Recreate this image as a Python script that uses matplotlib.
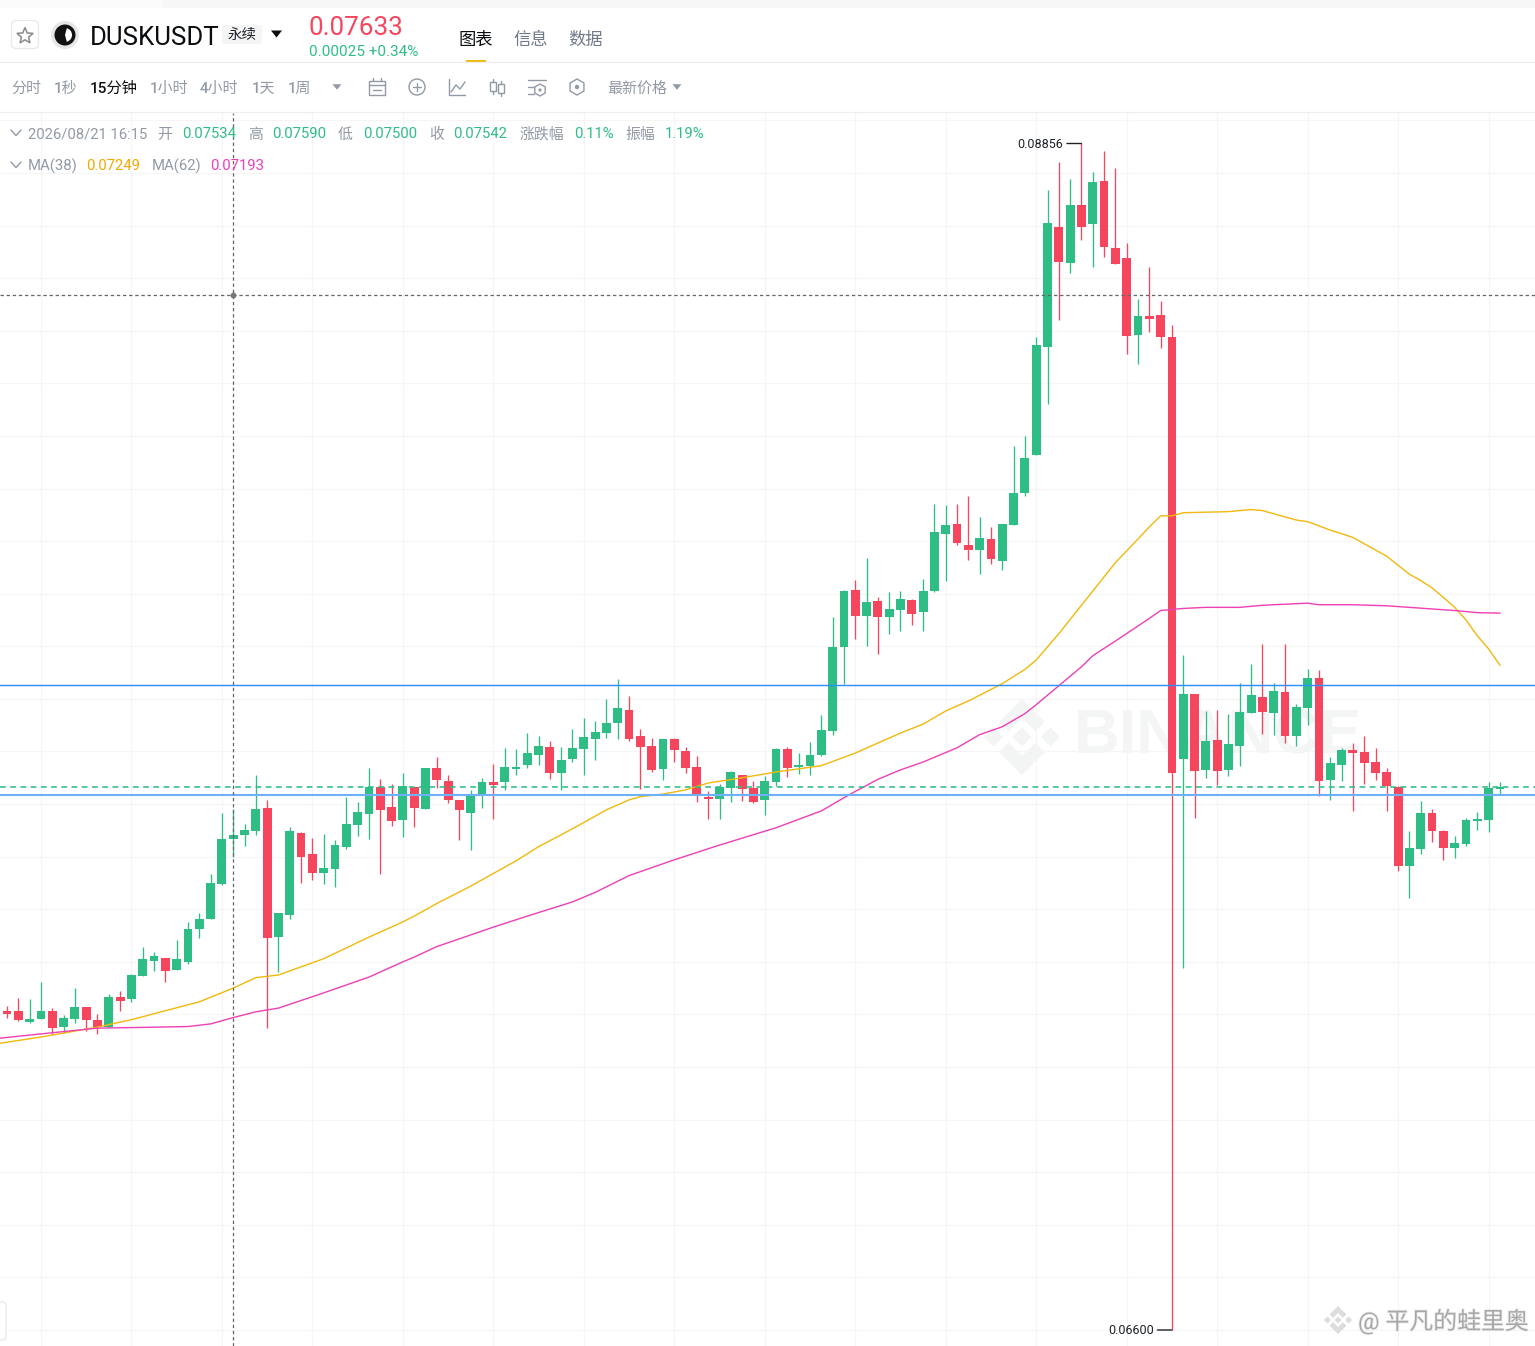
import numpy as np
import matplotlib
matplotlib.use('Agg')
import matplotlib.pyplot as plt
from matplotlib.patches import Circle, FancyBboxPatch, Polygon, Rectangle, Wedge
import matplotlib.patheffects as pe

plt.rcParams['font.family'] = ['Roboto', 'Noto Sans CJK SC', 'DejaVu Sans']

W, H = 1535, 1346

# precios en unidades de 0.00001 (15 min)
opens = [7212, 7206, 7206, 7186, 7191, 7206, 7176, 7191, 7215, 7190, 7177,
         7233, 7230, 7273, 7301, 7308, 7285, 7300, 7362, 7381, 7448,
         7534, 7542, 7548, 7593, 7348, 7389, 7545, 7505, 7469, 7477,
         7519, 7560, 7581, 7633, 7595, 7569, 7633, 7590, 7668, 7644,
         7608, 7583, 7617, 7642, 7642, 7666, 7675, 7694, 7708, 7659,
         7685, 7705, 7723, 7736, 7755, 7778, 7729, 7711, 7666, 7723,
         7701, 7670, 7613, 7610, 7631, 7655, 7631, 7607, 7642, 7704,
         7670, 7673, 7694, 7739, 7898, 8007, 7957, 7986, 7955, 7969,
         7988, 7965, 8005, 8113, 8132, 8093, 8084, 8104, 8063, 8131,
         8191, 8263, 8470, 8698, 8628, 8739, 8703, 8784, 8658, 8638,
         8491, 8528, 8530, 8488, 7685, 7810, 7665, 7722, 7665, 7711,
         7773, 7803, 7774, 7814, 7730, 7783, 7839, 7645, 7675, 7702,
         7699, 7680, 7661, 7633, 7482, 7514, 7583, 7549, 7517, 7524,
         7567, 7570, 7629]
highs = [7216, 7216, 7231, 7229, 7262, 7212, 7199, 7250, 7215, 7200, 7239,
         7244, 7277, 7328, 7318, 7308, 7342, 7375, 7392, 7467, 7583,
         7590, 7562, 7655, 7608, 7393, 7557, 7547, 7535, 7543, 7532,
         7613, 7604, 7669, 7648, 7638, 7659, 7633, 7669, 7690, 7655,
         7608, 7627, 7650, 7676, 7707, 7705, 7735, 7730, 7720, 7709,
         7742, 7764, 7758, 7800, 7837, 7806, 7743, 7726, 7723, 7725,
         7708, 7692, 7625, 7638, 7662, 7655, 7643, 7654, 7707, 7708,
         7698, 7718, 7769, 7956, 8007, 8026, 8068, 7993, 8004, 8006,
         7990, 8027, 8170, 8169, 8170, 8185, 8145, 8126, 8132, 8281,
         8300, 8488, 8768, 8820, 8789, 8856, 8801, 8841, 8810, 8667,
         8560, 8621, 8556, 8511, 7884, 7810, 7777, 7779, 7772, 7830,
         7866, 7905, 7831, 7905, 7790, 7856, 7855, 7690, 7707, 7716,
         7729, 7707, 7669, 7635, 7549, 7605, 7590, 7550, 7539, 7574,
         7585, 7642, 7642]
lows = [7200, 7193, 7187, 7184, 7191, 7163, 7165, 7184, 7169, 7162, 7175,
        7207, 7223, 7273, 7283, 7262, 7285, 7296, 7346, 7381, 7446,
        7500, 7521, 7542, 7175, 7280, 7382, 7449, 7456, 7448, 7443,
        7514, 7540, 7534, 7467, 7559, 7538, 7557, 7590, 7631, 7602,
        7532, 7513, 7593, 7571, 7627, 7655, 7669, 7674, 7647, 7626,
        7680, 7655, 7683, 7725, 7723, 7719, 7629, 7661, 7646, 7680,
        7660, 7604, 7572, 7572, 7604, 7606, 7602, 7579, 7635, 7652,
        7658, 7656, 7692, 7732, 7828, 7914, 7900, 7885, 7924, 7930,
        7941, 7930, 8003, 8025, 8092, 8064, 8037, 8056, 8046, 8131,
        8185, 8263, 8361, 8521, 8610, 8673, 8622, 8640, 8627, 8456,
        8436, 8498, 8468, 6600, 7289, 7574, 7650, 7637, 7654, 7673,
        7773, 7733, 7732, 7717, 7711, 7751, 7616, 7608, 7643, 7587,
        7638, 7646, 7587, 7472, 7421, 7505, 7528, 7493, 7497, 7521,
        7550, 7546, 7620]
closes = [7205, 7201, 7189, 7191, 7206, 7175, 7194, 7215, 7189, 7176, 7234,
          7225, 7275, 7305, 7311, 7283, 7306, 7363, 7382, 7450, 7534,
          7542, 7551, 7591, 7346, 7393, 7548, 7499, 7469, 7478, 7522,
          7562, 7584, 7632, 7589, 7568, 7635, 7593, 7668, 7645, 7608,
          7588, 7618, 7642, 7637, 7670, 7671, 7697, 7710, 7660, 7683,
          7707, 7728, 7737, 7755, 7782, 7723, 7709, 7665, 7723, 7703,
          7669, 7615, 7610, 7633, 7661, 7628, 7604, 7644, 7705, 7669,
          7674, 7694, 7740, 7899, 8005, 7957, 7985, 7955, 7971, 7990,
          7962, 8005, 8118, 8131, 8096, 8084, 8106, 8066, 8132, 8192,
          8258, 8473, 8704, 8630, 8739, 8697, 8783, 8660, 8627, 8490,
          8528, 8523, 8488, 7659, 7810, 7663, 7720, 7662, 7715, 7775,
          7808, 7775, 7815, 7730, 7784, 7840, 7644, 7678, 7702, 7697,
          7678, 7659, 7635, 7482, 7516, 7583, 7548, 7517, 7526, 7569,
          7571, 7631, 7633]

# medias moviles, puntos (indice de vela, precio)
ma38_idx = [-1, 3, 8, 11, 14, 17, 20, 22, 24, 28, 32, 35, 36, 38, 41, 45, 47, 50, 53, 55,
            56, 58, 60, 62, 65, 68, 72, 74, 75, 79, 81, 83, 85, 88, 90, 91, 93, 96, 98,
            100, 101, 102, 103, 104, 108, 110, 111, 113, 114, 115, 117, 119, 122, 124,
            125, 126, 127, 128, 129, 130, 131, 132]
ma38_val = [7144, 7157, 7176, 7190, 7207, 7224, 7250, 7270, 7275, 7306, 7347, 7376, 7387,
            7411, 7444, 7492, 7519, 7553, 7589, 7608, 7614, 7619, 7627, 7640, 7650, 7661,
            7673, 7689, 7697, 7735, 7752, 7777, 7796, 7829, 7856, 7874, 7924, 8005, 8059,
            8104, 8127, 8148, 8148, 8154, 8156, 8160, 8158, 8146, 8140, 8137, 8121, 8107,
            8071, 8037, 8025, 8011, 7993, 7974, 7950, 7920, 7895, 7864]
ma62_idx = [-1, 3, 8, 11, 16, 18, 20, 22, 24, 28, 32, 35, 36, 38, 43, 46, 50, 52, 55, 59,
            63, 68, 72, 74, 75, 77, 79, 81, 84, 86, 88, 90, 91, 93, 95, 96, 98, 101, 102,
            104, 106, 109, 111, 113, 115, 116, 119, 122, 124, 126, 128, 130, 132]
ma62_val = [7154, 7163, 7174, 7175, 7177, 7182, 7194, 7205, 7212, 7241, 7271, 7300, 7309,
            7329, 7366, 7387, 7414, 7432, 7464, 7494, 7522, 7555, 7587, 7612, 7624, 7647,
            7665, 7680, 7707, 7732, 7747, 7772, 7789, 7825, 7861, 7882, 7910, 7953, 7968,
            7972, 7974, 7974, 7978, 7980, 7982, 7979, 7979, 7977, 7974, 7971, 7968, 7964,
            7963]

last_price = 0.07633
blue_levels = [0.07827, 0.07617]
cross_price = 0.08567
cross_idx = 20
max_price = 0.08856
min_price = 0.06600
grid_prices = np.arange(66, 90) / 1000

GREEN = '#2ebd85'
RED = '#f6465d'
GOLD = '#f0b90b'
PINK = '#ee3fb5'
GRAY = '#929aa5'
BLUE = '#2f8ffa'
GRID = '#f5f5f5'

scale = 1.90139e-5
step = 11.31


def px_to_price(y):
    return 0.066 + (1330 - y) * scale


def px_to_idx(x):
    return (x - 7) / step


fig = plt.figure(figsize=(W / 100, H / 100), dpi=100, facecolor='white')

# capa de fondo y capa superior en pixeles
bg = fig.add_axes([0, 0, 1, 1], zorder=0)
top = fig.add_axes([0, 0, 1, 1], zorder=2)
for a in (bg, top):
    a.set_xlim(0, W)
    a.set_ylim(H, 0)
    a.axis('off')
top.patch.set_alpha(0)

ax = fig.add_axes([0, 0, 1, (H - 113) / H], zorder=1)
ax.patch.set_alpha(0)
ax.set_xlim(px_to_idx(0), px_to_idx(W))
ax.set_ylim(px_to_price(H), px_to_price(113))
for s in ax.spines.values():
    s.set_visible(False)
ax.set_xticks([])
ax.set_yticks([])

for p in grid_prices:
    ax.axhline(p, color=GRID, lw=0.8, zorder=1)
for i in range(3, 133, 8):
    ax.axvline(i, color=GRID, lw=0.8, zorder=1)


def logo(a, cx, cy, r, color, zorder=1, alpha=1.0):
    # rombo central y cuatro chevrones
    u = r / 4.0
    pts = [[(0, -1), (1, 0), (0, 1), (-1, 0)]]
    pts.append([(0, -4), (2.4, -1.6), (1.4, -0.6), (0, -2), (-1.4, -0.6), (-2.4, -1.6)])
    pts.append([(0, 4), (2.4, 1.6), (1.4, 0.6), (0, 2), (-1.4, 0.6), (-2.4, 1.6)])
    pts.append([(-4, 0), (-3, -1), (-2, 0), (-3, 1)])
    pts.append([(4, 0), (3, -1), (2, 0), (3, 1)])
    for q in pts:
        a.add_patch(Polygon([(cx + x * u, cy + y * u) for x, y in q], closed=True,
                            fc=color, ec='none', zorder=zorder, alpha=alpha))


# marca de agua
logo(bg, 1022, 737, 38, '#f3f4f4')
bg.text(1218, 737, 'BINANCE', fontsize=45.5, fontweight='bold', color='#f4f5f5',
        ha='center', va='center', family=['Liberation Sans'])

# velas
x_idx = np.arange(-1, 133)
o = np.array(opens) / 1e5
h = np.array(highs) / 1e5
l = np.array(lows) / 1e5
c = np.array(closes) / 1e5
colors = [GREEN if cc >= oo else RED for oo, cc in zip(o, c)]
ax.vlines(x_idx, l, h, colors=colors, lw=0.95, zorder=3)
ax.bar(x_idx, np.abs(c - o), bottom=np.minimum(o, c), width=0.78, color=colors,
       edgecolor='none', zorder=4)

# medias
ax.plot(ma38_idx, np.array(ma38_val) / 1e5, color=GOLD, lw=1.0, zorder=5)
ax.plot(ma62_idx, np.array(ma62_val) / 1e5, color=PINK, lw=1.0, zorder=5)

# lineas horizontales y cruz
ax.axhline(blue_levels[0], color=BLUE, lw=1.05, zorder=6)
ax.axhline(blue_levels[1], color='#6fb0fb', lw=1.5, zorder=6)
ax.axhline(last_price, color=GREEN, lw=1.15, dashes=(3.6, 2.8), zorder=6)
ax.axhline(cross_price, color='#666666', lw=0.9, dashes=(2.7, 2.2), zorder=6)
ax.axvline(cross_idx, color='#666666', lw=0.9, dashes=(2.7, 2.2), zorder=6)
ax.plot([cross_idx], [cross_price], 'o', color='#777777', ms=3.2, zorder=7)

# maximo y minimo
ax.annotate('', xy=(95, max_price), xytext=(95 - 14.5 / step, max_price),
            arrowprops=dict(arrowstyle='-', color='#1e2329', lw=1, shrinkA=0, shrinkB=0), zorder=8)
ax.annotate('', xy=(103, min_price), xytext=(103 - 14.5 / step, min_price),
            arrowprops=dict(arrowstyle='-', color='#1e2329', lw=1, shrinkA=0, shrinkB=0), zorder=8)
top.text(1063, 144, '%.5f' % max_price, fontsize=9, color='#1e2329', ha='right', va='center')
top.text(1154, 1331, '%.5f' % min_price, fontsize=9, color='#1e2329', ha='right', va='center')


def txt(x, y, s, px, color=GRAY, ha='left', weight='normal'):
    return top.text(x, y, s, fontsize=px * 0.72, color=color, ha=ha, va='center', fontweight=weight)


def tri(x, y, w, hh, color):
    top.add_patch(Polygon([(x - w / 2, y - hh / 2), (x + w / 2, y - hh / 2), (x, y + hh / 2)],
                          closed=True, fc=color, ec='none'))


def seg(xs, ys, color=GRAY, lw=1.0):
    top.plot(xs, ys, color=color, lw=lw, solid_capstyle='round')


# cabecera
top.add_patch(Rectangle((0, 0), W, 8, fc='#f7f7f7', ec='none'))
top.add_patch(Rectangle((0, 0), 163, 8, fc='#fbfbfb', ec='none'))
seg([0, W], [62, 62], '#eeeeee', 0.9)
seg([0, W], [112, 112], '#eeeeee', 0.9)

top.add_patch(FancyBboxPatch((11.5, 20.5), 27, 28, boxstyle='round,pad=0,rounding_size=5',
                             fc='white', ec='#e8e8e8', lw=0.9))
star_t = np.linspace(-np.pi / 2, 1.5 * np.pi, 11)
star_r = np.where(np.arange(11) % 2 == 0, 8.5, 3.8)
top.add_patch(Polygon(np.c_[25 + star_r * np.cos(star_t), 36 + star_r * np.sin(star_t)], closed=True,
                      fc='none', ec='#8a8a8a', lw=1.1))

top.add_patch(Circle((65, 35), 14, fc='#e6e6e6', ec='none'))
top.add_patch(Circle((65, 35), 10.5, fc='#111111', ec='none'))
top.add_patch(Wedge((65, 35), 7, -75, 75, fc='white', ec='none'))

txt(90, 38, 'DUSKUSDT', 25.9, '#0b0e11')
top.add_patch(FancyBboxPatch((222, 25), 40, 19, boxstyle='round,pad=0,rounding_size=3',
                             fc='#f5f5f5', ec='none'))
txt(242, 35, '永续', 14.5, '#1e2329', ha='center')
tri(276.5, 34, 11, 7, '#0b0e11')
txt(309, 28, '0.07633', 26, RED)
txt(309, 52, '0.00025 +0.34%', 15.3, GREEN)
txt(476, 39.5, '图表', 17.3, '#0b0e11', ha='center', weight='medium')
txt(531, 39.5, '信息', 17.3, '#707a8a', ha='center')
txt(586, 39.5, '数据', 17.3, '#707a8a', ha='center')
top.add_patch(Rectangle((466, 60), 20, 2.5, fc=GOLD, ec='none'))

# barra de intervalos
for xt, lab in [(11, '分时'), (54, '1秒'), (150, '1小时'), (200, '4小时'), (252, '1天'), (288, '1周')]:
    txt(xt, 88.5, lab, 15, GRAY, weight='medium')
txt(90, 88.5, '15分钟', 15.3, '#0b0e11', weight='medium')
tri(337, 87, 9, 5.5, GRAY)
txt(607, 88.5, '最新价格', 15, GRAY, weight='medium')
tri(677, 87, 9, 5.5, GRAY)

# iconos
top.add_patch(Rectangle((369, 81), 16, 14, fc='none', ec=GRAY, lw=1.0))
seg([369, 385], [85, 85])
seg([373, 373], [78, 81])
seg([381, 381], [78, 81])
seg([373, 381], [90, 90])
top.add_patch(Circle((417, 87), 8, fc='none', ec=GRAY, lw=1.0))
seg([413, 421], [87, 87])
seg([417, 417], [83, 91])
seg([449, 449, 465], [79, 95, 95])
seg([451, 456, 460, 465], [92, 85, 89, 82])
for xc, y0, y1 in [(493, 82, 91), (501, 84, 93)]:
    top.add_patch(Rectangle((xc - 3, y0), 6, y1 - y0, fc='none', ec=GRAY, lw=1.0))
    seg([xc, xc], [y0 - 3, y0])
    seg([xc, xc], [y1, y1 + 3])
seg([528, 546], [80, 80])
seg([528, 534], [87, 87])
seg([528, 534], [94, 94])
top.add_patch(Polygon([(540 + 6 * np.cos(t), 90 + 6 * np.sin(t)) for t in np.arange(6) * np.pi / 3 + np.pi / 6],
                      closed=True, fc='none', ec=GRAY, lw=1.0))
top.add_patch(Circle((540, 90), 1.6, fc=GRAY, ec='none'))
top.add_patch(Polygon([(577 + 8 * np.cos(t), 87 + 8 * np.sin(t)) for t in np.arange(6) * np.pi / 3 + np.pi / 6],
                      closed=True, fc='none', ec=GRAY, lw=1.0))
top.add_patch(Circle((577, 87), 2.2, fc=GRAY, ec='none'))

# leyenda OHLC
seg([11, 16, 21], [130, 135.5, 130], GRAY, 1.0)
for xt, lab, col in [(28, '2026/08/21 16:15', GRAY), (157, '开', GRAY), (182, '0.07534', GREEN),
                     (248, '高', GRAY), (272, '0.07590', GREEN), (338, '低', GRAY), (363, '0.07500', GREEN),
                     (429, '收', GRAY), (453, '0.07542', GREEN), (519, '涨跌幅', GRAY), (574, '0.11%', GREEN),
                     (625, '振幅', GRAY), (665, '1.19%', GREEN)]:
    txt(xt, 134.5, lab, 14.9, col)
seg([11, 16, 21], [162, 167.5, 162], GRAY, 1.0)
for xt, lab, col in [(28, 'MA(38)', GRAY), (86, '0.07249', '#f5a800'), (152, 'MA(62)', GRAY), (210, '0.07193', PINK)]:
    txt(xt, 166.5, lab, 14.9, col)

# borde izquierdo y firma
top.add_patch(FancyBboxPatch((-10, 1302), 16, 38, boxstyle='round,pad=0,rounding_size=4',
                             fc='white', ec='#e8e8e8', lw=0.9))
logo(top, 1338, 1320, 14, '#dddddd', zorder=3)
mark = txt(1358, 1321.5, '@ 平凡的蛙里奥', 23.9, '#a8a8a8')
mark.set_path_effects([pe.withStroke(linewidth=1.2, foreground='#efefef')])

fig.savefig('out.png', dpi=100)
